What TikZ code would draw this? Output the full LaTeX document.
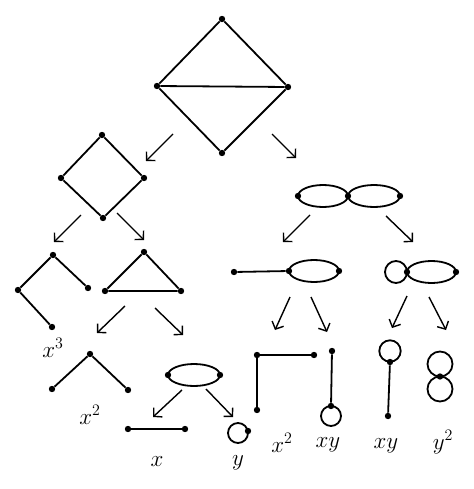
\documentclass[tikz,border=0pt]{standalone}
\usetikzlibrary{arrows.meta}
\begin{document}
\begin{tikzpicture}[x=0.75pt,y=-0.75pt,
 dot/.style={circle,fill=black,inner sep=0pt,minimum size=4.8pt},
 edge/.style={line width=1.35pt},
 arr/.style={line width=1.05pt,-{Straight Barb[length=4.5pt,width=9.5pt,line width=1.05pt]}},
 lab/.style={font=\fontsize{17}{20}\selectfont}]
\useasboundingbox (0,0) rectangle (474,489);

% top diamond
\node[dot] (t1) at (222,19) {};
\node[dot] (t2) at (157,86) {};
\node[dot] (t3) at (288,87) {};
\node[dot] (t4) at (222,153) {};
\draw[edge] (t1)--(t2) (t2)--(t4) (t4)--(t3) (t3)--(t1) (t2)--(t3);
\coordinate (a1s) at (173,134); \coordinate (a1e) at (146,161);
\coordinate (a2s) at (272,134); \coordinate (a2e) at (296,158);
\draw[arr] (a1s)--(a1e);
\draw[arr] (a2s)--(a2e);

% left diamond
\node[dot] (d1) at (102,135) {};
\node[dot] (d2) at (61,178) {};
\node[dot] (d3) at (144,178) {};
\node[dot] (d4) at (103,218) {};
\draw[edge] (d1)--(d2) (d2)--(d4) (d4)--(d3) (d3)--(d1);
\coordinate (b1s) at (81,215); \coordinate (b1e) at (54,242);
\coordinate (b2s) at (117,213); \coordinate (b2e) at (144,240);
\draw[arr] (b1s)--(b1e);
\draw[arr] (b2s)--(b2e);

% x^3 path
\node[dot] (p1) at (88,288) {};
\node[dot] (p2) at (53,255) {};
\node[dot] (p3) at (18,290) {};
\node[dot] (p4) at (52,327) {};
\draw[edge] (p1)--(p2) (p2)--(p3) (p3)--(p4);
\node[lab] (l1) at (53,348) {$x^3$};

% triangle
\node[dot] (r1) at (144,252) {};
\node[dot] (r2) at (105,291) {};
\node[dot] (r3) at (181,291) {};
\draw[edge] (r1)--(r2) (r2)--(r3) (r3)--(r1);
\coordinate (c1s) at (125,306); \coordinate (c1e) at (97,333);
\coordinate (c2s) at (155,308); \coordinate (c2e) at (183,335);
\draw[arr] (c1s)--(c1e);
\draw[arr] (c2s)--(c2e);

% x^2 caret
\node[dot] (q1) at (52,389) {};
\node[dot] (q2) at (90,354) {};
\node[dot] (q3) at (128,390) {};
\draw[edge] (q1)--(q2) (q2)--(q3);
\node[lab] (l2) at (90,415) {$x^2$};

% small ellipse
\coordinate (e1c) at (194,375);
\draw[edge] (e1c) ellipse [x radius=26, y radius=11];
\node[dot] (e1a) at (168,375) {};
\node[dot] (e1b) at (220,375) {};
\coordinate (f1s) at (182,390); \coordinate (f1e) at (153,417);
\coordinate (f2s) at (206,389); \coordinate (f2e) at (233,417);
\draw[arr] (f1s)--(f1e);
\draw[arr] (f2s)--(f2e);

% x segment
\node[dot] (s1) at (128,429) {};
\node[dot] (s2) at (185,429) {};
\draw[edge] (s1)--(s2);
\node[lab] (l3) at (157,462) {$x$};

% y loop
\coordinate (yc) at (238,433);
\draw[edge] (yc) circle [radius=10];
\node[dot] (yd) at (248,431) {};
\node[lab] (l4) at (238,463) {$y$};

% double ellipse
\coordinate (g1c) at (323,196);
\coordinate (g2c) at (374,196);
\draw[edge] (g1c) ellipse [x radius=25, y radius=11];
\draw[edge] (g2c) ellipse [x radius=26, y radius=11];
\node[dot] (g1) at (298,196) {};
\node[dot] (g2) at (348,196) {};
\node[dot] (g3) at (400,196) {};
\coordinate (h1s) at (310,215); \coordinate (h1e) at (283,242);
\coordinate (h2s) at (386,216); \coordinate (h2e) at (413,242);
\draw[arr] (h1s)--(h1e);
\draw[arr] (h2s)--(h2e);

% line + ellipse
\node[dot] (m1) at (234,272) {};
\node[dot] (m2) at (289,271) {};
\coordinate (m3c) at (314,271);
\draw[edge] (m3c) ellipse [x radius=25, y radius=11];
\node[dot] (m4) at (339,271) {};
\draw[edge] (m1)--(m2);
\coordinate (i1s) at (290,297); \coordinate (i1e) at (275,330);
\coordinate (i2s) at (311,297); \coordinate (i2e) at (327,332);
\draw[arr] (i1s)--(i1e);
\draw[arr] (i2s)--(i2e);

% circle + ellipse
\coordinate (n1c) at (396,272);
\coordinate (n2c) at (431.5,272);
\draw[edge] (n1c) circle [radius=11];
\draw[edge] (n2c) ellipse [x radius=24.5, y radius=11];
\node[dot] (n1) at (407,272) {};
\node[dot] (n2) at (456,272) {};
\coordinate (j1s) at (407,296); \coordinate (j1e) at (392,328);
\coordinate (j2s) at (429,297); \coordinate (j2e) at (446,330);
\draw[arr] (j1s)--(j1e);
\draw[arr] (j2s)--(j2e);

% x^2 bracket
\node[dot] (k1) at (314,355) {};
\node[dot] (k2) at (257,355) {};
\node[dot] (k3) at (257,410) {};
\draw[edge] (k1)--(k2) (k2)--(k3);
\node[lab] (l5) at (282,443) {$x^2$};

% xy line with bottom loop
\node[dot] (u1) at (332,351) {};
\node[dot] (u2) at (331,406) {};
\coordinate (uc) at (331,416);
\draw[edge] (u1)--(u2);
\draw[edge] (uc) circle [radius=10];
\node[lab] (l6) at (328,445) {$xy$};

% xy loop on top
\coordinate (vc) at (390,351);
\draw[edge] (vc) circle [radius=10.7];
\node[dot] (v1) at (390,362) {};
\node[dot] (v2) at (388,416) {};
\draw[edge] (v1)--(v2);
\node[lab] (l7) at (386,446) {$xy$};

% y^2 double loop
\coordinate (w1c) at (440,364);
\coordinate (w2c) at (440,389);
\draw[edge] (w1c) circle [radius=12.5];
\draw[edge] (w2c) circle [radius=12.5];
\node[dot] (w) at (440,376.5) {};
\node[lab] (l8) at (443,442) {$y^2$};
\end{tikzpicture}
\end{document}
